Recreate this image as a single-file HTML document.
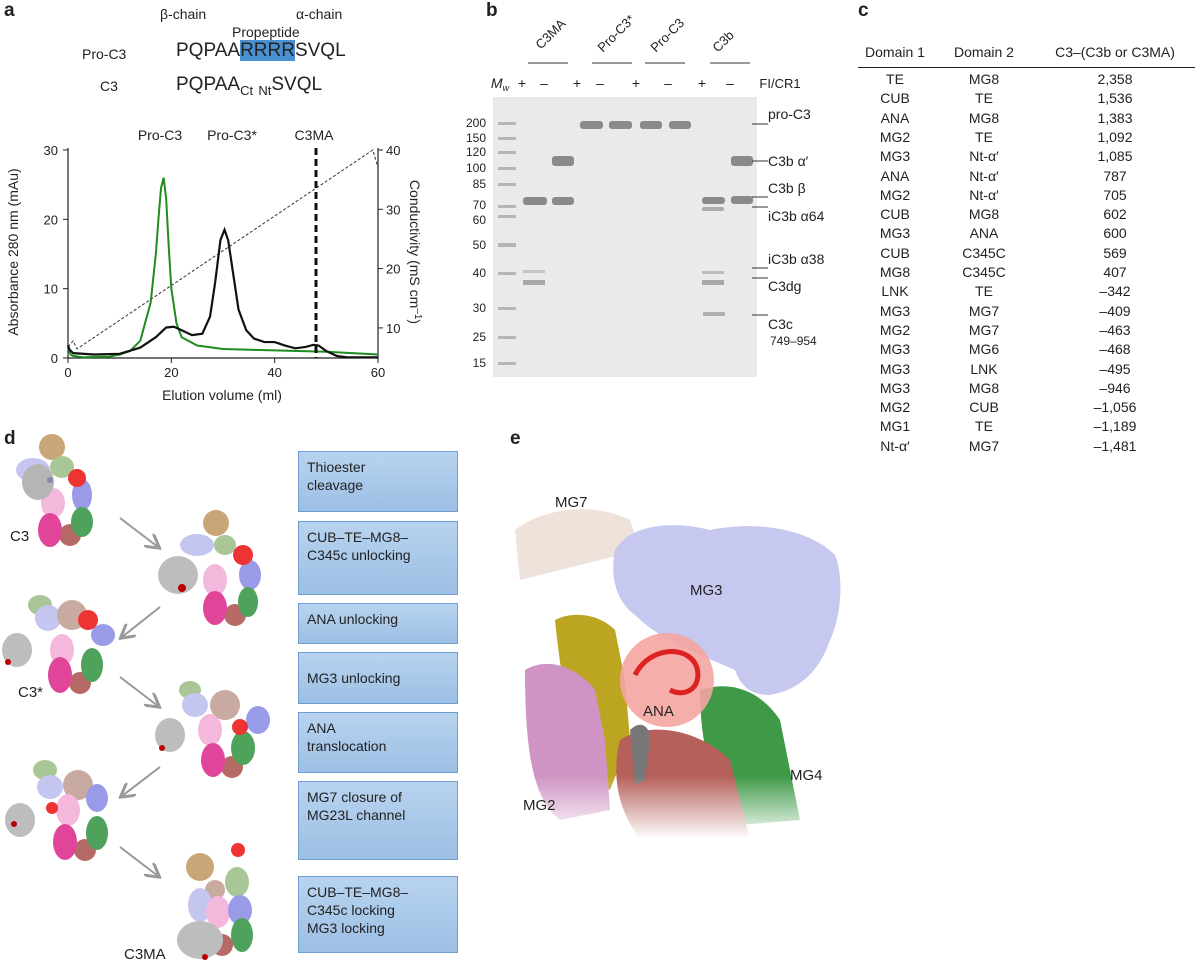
<!DOCTYPE html>
<html><head><meta charset="utf-8"><style>
body{margin:0;background:#fff;font-family:"Liberation Sans",sans-serif;}
#root{position:relative;width:1200px;height:975px;overflow:hidden;}
.t{position:absolute;white-space:nowrap;color:#222;}
.lane{position:absolute;white-space:nowrap;color:#222;font-size:13px;line-height:15px;transform:rotate(-45deg);transform-origin:left bottom;}
.box{position:absolute;left:298px;width:160px;border:1px solid #6f9fd0;background:linear-gradient(#b8d3ef,#9dbfe4);font-size:14px;color:#222;padding:6px 8px;box-sizing:border-box;line-height:18px;}
</style></head><body><div id="root">

<div class="t" style="left:4px;top:0px;font-size:19px;font-weight:bold">a</div>
<div class="t" style="left:486px;top:0px;font-size:19px;font-weight:bold">b</div>
<div class="t" style="left:858px;top:0px;font-size:19px;font-weight:bold">c</div>
<div class="t" style="left:4px;top:428px;font-size:19px;font-weight:bold">d</div>
<div class="t" style="left:510px;top:428px;font-size:19px;font-weight:bold">e</div>

<div class="t" style="left:160px;top:6px;font-size:14px">β-chain</div>
<div class="t" style="left:296px;top:6px;font-size:14px">α-chain</div>
<div class="t" style="left:232px;top:24px;font-size:14px">Propeptide</div>
<div class="t" style="left:82px;top:46px;font-size:14px">Pro-C3</div>
<div class="t" style="left:176px;top:40px;font-size:19px">PQPAA<span style="background:#4a8fd0">RRRR</span>SVQL</div>
<div class="t" style="left:100px;top:78px;font-size:14px">C3</div>
<div class="t" style="left:176px;top:74px;font-size:19px">PQPAA<sub style="font-size:13px">Ct</sub> <sub style="font-size:13px">Nt</sub>SVQL</div>

<svg id="chart" style="position:absolute;left:0;top:0" width="480" height="420"></svg>

<!-- panel b gel -->
<svg style="position:absolute;left:440px;top:0" width="420" height="380">
<g transform="translate(-440,0)">
<rect x="493" y="97" width="264" height="280" fill="#ebeaea"/>
<g stroke="#333" stroke-width="1">
<line x1="528" y1="63" x2="568" y2="63"/><line x1="592" y1="63" x2="632" y2="63"/><line x1="645" y1="63" x2="685" y2="63"/><line x1="710" y1="63" x2="750" y2="63"/>
</g>
<g font-size="14" fill="#222" text-anchor="middle">
<text x="522" y="88">+</text><text x="544" y="88">–</text><text x="577" y="88">+</text><text x="600" y="88">–</text><text x="636" y="88">+</text><text x="668" y="88">–</text><text x="702" y="88">+</text><text x="730" y="88">–</text>
<text x="780" y="88" font-size="13">FI/CR1</text>
<text x="500" y="88" font-size="14" font-style="italic">M<tspan font-size="9" dy="3">w</tspan></text>
</g>
<g font-size="12" fill="#222" text-anchor="end">
<text x="486" y="127">200</text><text x="486" y="142">150</text><text x="486" y="156">120</text><text x="486" y="172">100</text><text x="486" y="188">85</text><text x="486" y="209">70</text><text x="486" y="224">60</text><text x="486" y="249">50</text><text x="486" y="277">40</text><text x="486" y="312">30</text><text x="486" y="341">25</text><text x="486" y="367">15</text>
</g>
<g fill="#b5b5b5">
<rect x="498" y="122" width="18" height="3"/><rect x="498" y="137" width="18" height="3"/><rect x="498" y="151" width="18" height="3"/><rect x="498" y="167" width="18" height="3"/><rect x="498" y="183" width="18" height="3"/><rect x="498" y="205" width="18" height="3"/><rect x="498" y="215" width="18" height="3"/><rect x="498" y="243" width="18" height="4"/><rect x="498" y="272" width="18" height="3"/><rect x="498" y="307" width="18" height="3"/><rect x="498" y="336" width="18" height="3"/><rect x="498" y="362" width="18" height="3"/>
</g>
<g fill="#8a8a8a">
<rect x="523" y="197" width="24" height="8" rx="3"/><rect x="523" y="270" width="22" height="3" fill="#c4c4c4"/><rect x="523" y="280" width="22" height="5" fill="#a8a8a8"/>
<rect x="552" y="156" width="22" height="10" rx="3"/><rect x="552" y="197" width="22" height="8" rx="3"/>
<rect x="580" y="121" width="23" height="8" rx="3"/><rect x="609" y="121" width="23" height="8" rx="3"/><rect x="640" y="121" width="22" height="8" rx="3"/><rect x="669" y="121" width="22" height="8" rx="3"/>
<rect x="702" y="197" width="23" height="7" rx="3"/><rect x="702" y="207" width="22" height="4" rx="2" fill="#aaa"/><rect x="702" y="271" width="22" height="3" fill="#bcbcbc"/><rect x="702" y="280" width="22" height="5" fill="#a8a8a8"/><rect x="703" y="312" width="22" height="4" fill="#b0b0b0"/>
<rect x="731" y="156" width="22" height="10" rx="3"/><rect x="731" y="196" width="22" height="8" rx="3"/>
</g>
<g stroke="#333"><line x1="752" y1="124" x2="768" y2="124"/><line x1="752" y1="161" x2="768" y2="161"/><line x1="752" y1="197" x2="768" y2="197"/><line x1="752" y1="207" x2="768" y2="207"/><line x1="752" y1="268" x2="768" y2="268"/><line x1="752" y1="278" x2="768" y2="278"/><line x1="752" y1="315" x2="768" y2="315"/></g>
<g font-size="14" fill="#222">
<text x="768" y="119">pro-C3</text><text x="768" y="166">C3b α′</text><text x="768" y="193">C3b β</text><text x="768" y="221">iC3b α64</text><text x="768" y="264">iC3b α38</text><text x="768" y="291">C3dg</text><text x="768" y="329">C3c</text><text x="770" y="345" font-size="12">749–954</text>
</g>
</g>
</svg>
<div class="lane" style="left:543px;top:37px">C3MA</div>
<div class="lane" style="left:605px;top:40px">Pro-C3*</div>
<div class="lane" style="left:658px;top:40px">Pro-C3</div>
<div class="lane" style="left:720px;top:40px">C3b</div>

<div id="tbl"></div>

<!-- panel d -->
<svg style="position:absolute;left:0;top:430px" width="300" height="545">
<defs><marker id="ah" markerWidth="8" markerHeight="8" refX="6" refY="4" orient="auto"><path d="M0,0 L7,4 L0,8" fill="none" stroke="#999" stroke-width="1.5"/></marker></defs>
<g>
<ellipse cx="52" cy="17" rx="13" ry="13" fill="#c9a677"/><ellipse cx="33" cy="40" rx="17" ry="12" fill="#c5c6ef"/><ellipse cx="62" cy="37" rx="12" ry="11" fill="#a9c796"/><ellipse cx="82" cy="65" rx="10" ry="16" fill="#9a9be8"/><ellipse cx="53" cy="73" rx="12" ry="15" fill="#f4b8dc"/><ellipse cx="38" cy="52" rx="16" ry="18" fill="#b5b5b5"/><ellipse cx="70" cy="105" rx="11" ry="11" fill="#b56a66"/><ellipse cx="50" cy="100" rx="12" ry="17" fill="#e0459a"/><ellipse cx="82" cy="92" rx="11" ry="15" fill="#4fa25c"/><circle cx="77" cy="48" r="9" fill="#e33"/><circle cx="50" cy="50" r="3" fill="#88a"/></g>
<g>
<ellipse cx="216" cy="93" rx="13" ry="13" fill="#c9a677"/><ellipse cx="197" cy="115" rx="17" ry="11" fill="#c5c6ef"/><ellipse cx="225" cy="115" rx="11" ry="10" fill="#a9c796"/><ellipse cx="250" cy="145" rx="11" ry="15" fill="#9a9be8"/><ellipse cx="215" cy="150" rx="12" ry="16" fill="#f4b8dc"/><ellipse cx="235" cy="185" rx="11" ry="11" fill="#b56a66"/><ellipse cx="215" cy="178" rx="12" ry="17" fill="#e0459a"/><ellipse cx="248" cy="172" rx="10" ry="15" fill="#4fa25c"/><ellipse cx="178" cy="145" rx="20" ry="19" fill="#bdbdbd"/><circle cx="243" cy="125" r="10" fill="#e33"/><circle cx="182" cy="158" r="4" fill="#b00"/></g>
<g>
<ellipse cx="40" cy="175" rx="12" ry="10" fill="#a9c796"/><ellipse cx="48" cy="188" rx="13" ry="13" fill="#c5c6ef"/><ellipse cx="72" cy="185" rx="15" ry="15" fill="#c9aaa0"/><ellipse cx="103" cy="205" rx="12" ry="11" fill="#9a9be8"/><ellipse cx="62" cy="220" rx="12" ry="16" fill="#f4b8dc"/><ellipse cx="80" cy="253" rx="11" ry="11" fill="#b56a66"/><ellipse cx="60" cy="245" rx="12" ry="18" fill="#e0459a"/><ellipse cx="92" cy="235" rx="11" ry="17" fill="#4fa25c"/><ellipse cx="17" cy="220" rx="15" ry="17" fill="#bdbdbd"/><circle cx="88" cy="190" r="10" fill="#e33"/><circle cx="8" cy="232" r="3" fill="#b00"/></g>
<g>
<ellipse cx="190" cy="260" rx="11" ry="9" fill="#a9c796"/><ellipse cx="195" cy="275" rx="13" ry="12" fill="#c5c6ef"/><ellipse cx="225" cy="275" rx="15" ry="15" fill="#c9aaa0"/><ellipse cx="258" cy="290" rx="12" ry="14" fill="#9a9be8"/><ellipse cx="210" cy="300" rx="12" ry="16" fill="#f4b8dc"/><ellipse cx="232" cy="337" rx="11" ry="11" fill="#b56a66"/><ellipse cx="213" cy="330" rx="12" ry="17" fill="#e0459a"/><ellipse cx="243" cy="318" rx="12" ry="17" fill="#4fa25c"/><ellipse cx="170" cy="305" rx="15" ry="17" fill="#bdbdbd"/><circle cx="240" cy="297" r="8" fill="#e33"/><circle cx="162" cy="318" r="3" fill="#b00"/></g>
<g>
<ellipse cx="45" cy="340" rx="12" ry="10" fill="#a9c796"/><ellipse cx="50" cy="357" rx="13" ry="12" fill="#c5c6ef"/><ellipse cx="78" cy="355" rx="15" ry="15" fill="#c9aaa0"/><ellipse cx="97" cy="368" rx="11" ry="14" fill="#9a9be8"/><ellipse cx="68" cy="380" rx="12" ry="16" fill="#f4b8dc"/><ellipse cx="85" cy="420" rx="11" ry="11" fill="#b56a66"/><ellipse cx="65" cy="412" rx="12" ry="18" fill="#e0459a"/><ellipse cx="97" cy="403" rx="11" ry="17" fill="#4fa25c"/><ellipse cx="20" cy="390" rx="15" ry="17" fill="#bdbdbd"/><circle cx="52" cy="378" r="6" fill="#e33"/><circle cx="14" cy="394" r="3" fill="#b00"/></g>
<g>
<ellipse cx="200" cy="437" rx="14" ry="14" fill="#c9a677"/><ellipse cx="237" cy="452" rx="12" ry="15" fill="#a9c796"/><ellipse cx="215" cy="460" rx="10" ry="10" fill="#c9aaa0"/><ellipse cx="200" cy="475" rx="12" ry="17" fill="#c5c6ef"/><ellipse cx="218" cy="482" rx="12" ry="16" fill="#f4b8dc"/><ellipse cx="240" cy="480" rx="12" ry="15" fill="#9a9be8"/><ellipse cx="242" cy="505" rx="11" ry="17" fill="#4fa25c"/><ellipse cx="222" cy="515" rx="11" ry="11" fill="#b56a66"/><ellipse cx="200" cy="510" rx="23" ry="19" fill="#bdbdbd"/><circle cx="238" cy="420" r="7" fill="#e33"/><circle cx="205" cy="527" r="3" fill="#b00"/></g>
<g stroke="#999" stroke-width="2" marker-end="url(#ah)">
<line x1="120" y1="88" x2="158" y2="117"/><line x1="160" y1="177" x2="122" y2="207"/><line x1="120" y1="247" x2="158" y2="276"/><line x1="160" y1="337" x2="122" y2="366"/><line x1="120" y1="417" x2="158" y2="446"/>
</g>
</svg>
<div class="t" style="left:10px;top:528px;font-size:15px">C3</div>
<div class="t" style="left:18px;top:684px;font-size:15px">C3*</div>
<div class="t" style="left:124px;top:946px;font-size:15px">C3MA</div>
<div class="box" style="top:451px;height:61px">Thioester<br>cleavage</div>
<div class="box" style="top:521px;height:74px">CUB–TE–MG8–<br>C345c unlocking</div>
<div class="box" style="top:603px;height:41px">ANA unlocking</div>
<div class="box" style="top:652px;height:52px;padding-top:16px">MG3 unlocking</div>
<div class="box" style="top:712px;height:61px">ANA<br>translocation</div>
<div class="box" style="top:781px;height:79px">MG7 closure of<br>MG23L channel</div>
<div class="box" style="top:876px;height:77px">CUB–TE–MG8–<br>C345c locking<br>MG3 locking</div>

<!-- panel e -->
<svg style="position:absolute;left:500px;top:440px" width="360" height="420">
<defs><linearGradient id="fade" x1="0" y1="0" x2="0" y2="1"><stop offset="0.8" stop-color="#fff" stop-opacity="0"/><stop offset="0.95" stop-color="#fff" stop-opacity="1"/></linearGradient></defs>
<path d="M15 90 C40 70 90 60 130 80 L140 110 C100 120 60 130 20 140Z" fill="#eadbd2" opacity="0.8"/>
<path d="M115 110 C130 85 170 80 210 90 C260 80 310 90 335 115 C345 140 340 180 330 200 C320 230 300 250 270 255 C250 255 240 245 235 230 C200 215 160 200 135 175 C115 160 110 135 115 110Z" fill="#c6c8f0"/>
<path d="M55 180 C75 170 100 175 115 190 L125 240 L130 300 L110 350 L80 335 C70 290 60 230 55 180Z" fill="#bca521"/>
<path d="M25 230 C50 215 80 230 95 250 L105 300 L110 370 L60 380 C35 360 25 320 25 230Z" fill="#cf94c3"/>
<path d="M200 250 C230 240 260 250 280 280 L290 330 L300 380 L240 385 C215 360 200 310 200 250Z" fill="#3f9a48"/>
<path d="M120 300 C150 280 200 290 230 320 L250 400 L150 410 C120 380 110 340 120 300Z" fill="#b5605b"/>
<path d="M130 290 C140 280 150 285 150 300 L145 340 L135 345Z" fill="#777"/>
<circle cx="167" cy="240" r="47" fill="#f4a5a1" opacity="0.9"/>
<path d="M135 235 C150 205 190 205 197 228 C202 248 185 258 170 250" stroke="#d22" stroke-width="5" fill="none"/>
<rect x="0" y="0" width="360" height="420" fill="url(#fade)"/>
</svg>
<div class="t" style="left:555px;top:494px;font-size:15px">MG7</div>
<div class="t" style="left:690px;top:582px;font-size:15px">MG3</div>
<div class="t" style="left:643px;top:703px;font-size:15px">ANA</div>
<div class="t" style="left:790px;top:767px;font-size:15px">MG4</div>
<div class="t" style="left:523px;top:797px;font-size:15px">MG2</div>

<script>
const xTicks=[0,20,40,60];
const yTicks=[0,10,20,30];
const y2Ticks=[10,20,30,40];
const greenX=[0,0.5,1,3,8,10,12,14,16,17,17.5,18,18.5,19,19.5,20,21,22,25,30,40,50,60];
const greenY=[1.5,0.5,0.3,0.1,0.2,0.5,1,2.5,8,15,20,24.5,26,23,16,10,5,3,1.8,1.3,1.1,0.9,0.5];
const blackX=[0,0.3,1,5,10,14,17,19,20.5,22,24,26,27.5,28.5,29.5,30.3,31,32,33,34.5,36,38,40,42,44,46,47.5,48.5,50,52,54,60];
const blackY=[1.8,1.2,0.7,0.5,0.6,1.5,3,4.4,4.5,4,3.3,3.5,6,11,17,18.5,17,12,7,4,2.8,2.3,2.3,1.8,1.4,1.6,1.9,1.8,1,0.3,0.1,0.1];
const condX=[0,1,1.7,2.5,59,60];
const condY=[6.8,7.8,6.5,6.9,40,37];
const markerX=48;
const NS='http://www.w3.org/2000/svg';
const svg=document.getElementById('chart');
const X=v=>68+v*(378-68)/60, Y=v=>358-v*(358-150)/30, Y2=v=>150+(40-v)*5.93;
function mk(t,a){const e=document.createElementNS(NS,t);for(const k in a)e.setAttribute(k,a[k]);svg.appendChild(e);return e;}
let ax=mk('path',{d:`M68 148 V358 H378 V148`,stroke:'#222',fill:'none','stroke-width':1.2});


xTicks.forEach(v=>{mk('line',{x1:X(v),x2:X(v),y1:358,y2:363,stroke:'#222'});let t=mk('text',{x:X(v),y:377,'font-size':13,'text-anchor':'middle',fill:'#222'});t.textContent=v;

});
yTicks.forEach(v=>{mk('line',{x1:63,x2:68,y1:Y(v),y2:Y(v),stroke:'#222'});let t=mk('text',{x:58,y:Y(v)+5,'font-size':13,'text-anchor':'end',fill:'#222'});t.textContent=v;

});
y2Ticks.forEach(v=>{mk('line',{x1:378,x2:383,y1:Y2(v),y2:Y2(v),stroke:'#222'});let t=mk('text',{x:386,y:Y2(v)+5,'font-size':13,fill:'#222'});t.textContent=v;

});
const pts=(xs,ys,f)=>xs.map((x,i)=>X(x)+','+f(ys[i])).join(' ');
let c=mk('polyline',{points:pts(condX,condY,Y2),fill:'none',stroke:'#333','stroke-dasharray':'3,2','stroke-width':1});


let g=mk('polyline',{points:pts(greenX,greenY,Y),fill:'none',stroke:'#1e8c1e','stroke-width':2});


let b=mk('polyline',{points:pts(blackX,blackY,Y),fill:'none',stroke:'#111','stroke-width':2.2});


let m=mk('line',{x1:X(markerX),x2:X(markerX),y1:148,y2:358,stroke:'#111','stroke-width':3,'stroke-dasharray':'7,4'});


[['Pro-C3',160],['Pro-C3*',232],['C3MA',314]].forEach(([s,x])=>{let t=mk('text',{x:x,y:140,'font-size':14,'text-anchor':'middle',fill:'#222'});t.textContent=s;

});
let xt=mk('text',{x:222,y:400,'font-size':14,'text-anchor':'middle',fill:'#222'});xt.textContent='Elution volume (ml)';


let yt=mk('text',{x:0,y:0,'font-size':14,'text-anchor':'middle',fill:'#222',transform:'translate(18 252) rotate(-90)'});yt.textContent='Absorbance 280 nm (mAu)';


let y2t=mk('text',{x:0,y:0,'font-size':14,'text-anchor':'middle',fill:'#222',transform:'translate(410 252) rotate(90)'});y2t.innerHTML='Conductivity (mS cm<tspan dy="-5" font-size="10">–1</tspan><tspan dy="5">)</tspan>';



const d1=['TE','CUB','ANA','MG2','MG3','ANA','MG2','CUB','MG3','CUB','MG8','LNK','MG3','MG2','MG3','MG3','MG3','MG2','MG1','Nt-α′'];
const d2=['MG8','TE','MG8','TE','Nt-α′','Nt-α′','Nt-α′','MG8','ANA','C345C','C345C','TE','MG7','MG7','MG6','LNK','MG8','CUB','TE','MG7'];
const dv=['2,358','1,536','1,383','1,092','1,085','787','705','602','600','569','407','–342','–409','–463','–468','–495','–946','–1,056','–1,189','–1,481'];
const tbl=document.getElementById('tbl');
function cell(txt,x,y,name){const d=document.createElement('div');d.className='t';d.style.cssText=`left:${x-80}px;top:${y}px;width:160px;text-align:center;font-size:14px`;d.textContent=txt;


tbl.appendChild(d);}
cell('Domain 1',895,44,'header-domain-1');cell('Domain 2',984,44,'header-domain-2');cell('C3–(C3b or C3MA)',1115,44,'header-difference');
const ln=document.createElement('div');ln.style.cssText='position:absolute;left:858px;top:67px;width:337px;height:1px;background:#222';


tbl.appendChild(ln);
d1.forEach((v,i)=>{const y=71+i*19.3;cell(v,895,y,'domain-1-cell');cell(d2[i],984,y,'domain-2-cell');cell(dv[i],1115,y,'difference-cell');});
</script>
</div></body></html>
